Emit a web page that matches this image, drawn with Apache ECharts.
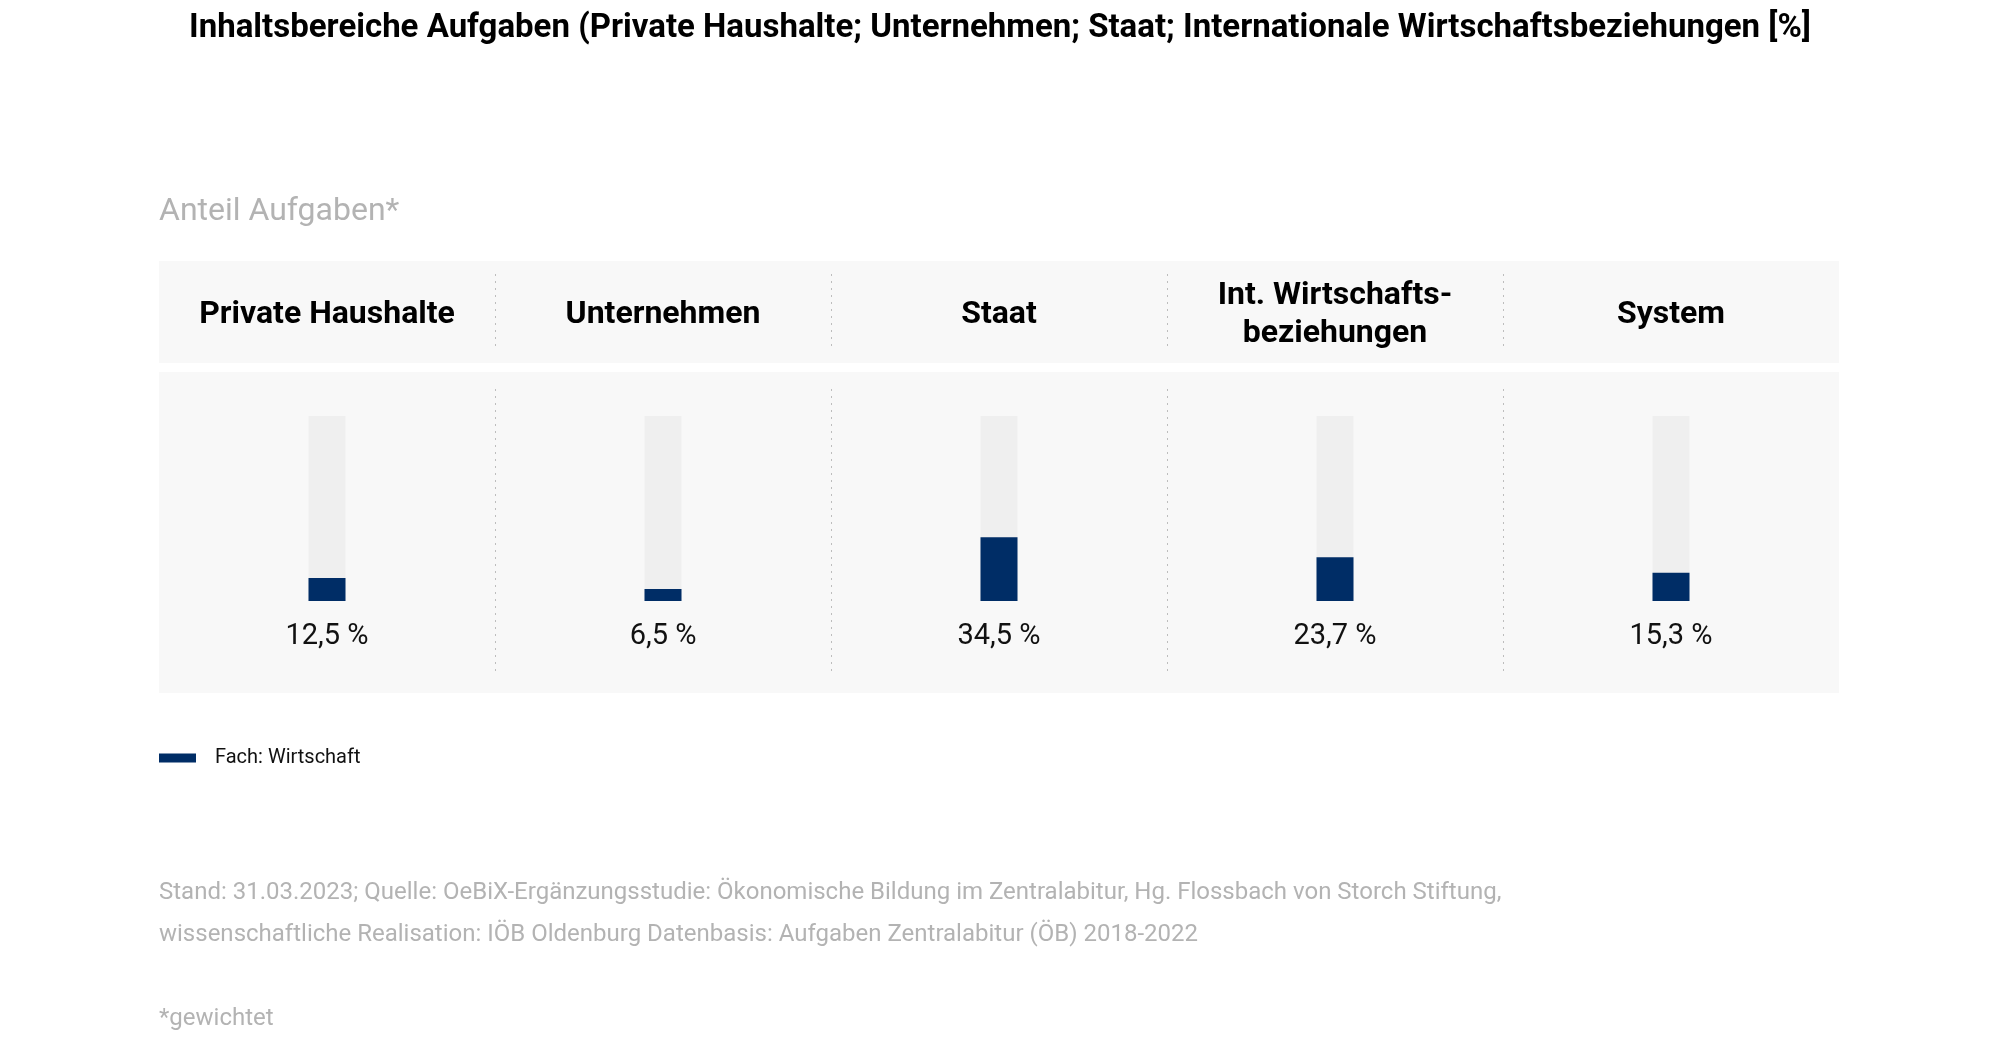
<!DOCTYPE html>
<html>
<head>
<meta charset="utf-8">
<title>Inhaltsbereiche Aufgaben</title>
<script src="https://cdn.jsdelivr.net/npm/echarts@6/dist/echarts.min.js"></script>
<style>
  html, body { margin: 0; padding: 0; background: #fff; }
  #chart { width: 2000px; height: 1049px; }
</style>
</head>
<body>
<div id="chart"></div>
<script>
var categories = ['Private Haushalte', 'Unternehmen', 'Staat', 'Int. Wirtschafts-\nbeziehungen', 'System'];
var wirtschaft = [12.5, 6.5, 34.5, 23.7, 15.3];
var seriesName = 'Fach: Wirtschaft';

// layout
var L = 159, W = 1680, colW = W / categories.length;
var font = 'Roboto, "Noto Sans", sans-serif';
var grey = '#b3b3b3';

var chart = echarts.init(document.getElementById('chart'));

var graphics = [
    { type: 'rect', shape: { x: L, y: 261, width: W, height: 102 }, style: { fill: '#f8f8f8' }, z: 0 },
    { type: 'rect', shape: { x: L, y: 372, width: W, height: 321 }, style: { fill: '#f8f8f8' }, z: 0 }
];
for (var i = 1; i < categories.length; i++) {
    var x = Math.round(L + i * colW) + 0.5;
    [[274, 351], [389, 672]].forEach(function (r) {
        graphics.push({
            type: 'line', z: 1,
            shape: { x1: x, y1: r[0], x2: x, y2: r[1] },
            style: { stroke: '#bdbdbd', lineWidth: 1, lineDash: [2, 5] }
        });
    });
}

var option = {
    textStyle: { fontFamily: font },
    title: [
        {
            text: 'Inhaltsbereiche Aufgaben (Private Haushalte; Unternehmen; Staat; Internationale Wirtschaftsbeziehungen [%]',
            left: 'center', top: 7,
            textStyle: { fontFamily: font, fontSize: 33, fontWeight: 'bold', color: '#000' }
        },
        {
            text: 'Anteil Aufgaben*',
            left: L - 5, top: 191,
            textStyle: { fontFamily: font, fontSize: 32, fontWeight: 'normal', color: grey }
        },
        {
            text: 'Stand: 31.03.2023; Quelle: OeBiX-Ergänzungsstudie: Ökonomische Bildung im Zentralabitur, Hg. Flossbach von Storch Stiftung,\nwissenschaftliche Realisation: IÖB Oldenburg Datenbasis: Aufgaben Zentralabitur (ÖB) 2018-2022',
            left: L - 5, top: 867,
            textStyle: { fontFamily: font, fontSize: 24, fontWeight: 'normal', color: grey, lineHeight: 42 }
        },
        {
            text: '*gewichtet',
            left: L - 5, top: 1002,
            textStyle: { fontFamily: font, fontSize: 24, fontWeight: 'normal', color: grey }
        }
    ],
    legend: {
        data: [seriesName],
        left: L, top: 748, padding: 0,
        icon: 'rect', itemWidth: 37, itemHeight: 9,
        textStyle: { fontFamily: font, fontSize: 20, color: '#111', padding: [0, 0, 0, 14] }
    },
    grid: { left: L, width: W, top: 416, height: 185 },
    xAxis: {
        type: 'category',
        position: 'top',
        data: categories,
        axisLine: { show: false },
        axisTick: { show: false },
        splitLine: { show: false },
        axisLabel: {
            interval: 0, margin: 101, verticalAlign: 'middle',
            fontFamily: font, fontSize: 32, fontWeight: 'bold', color: '#000', lineHeight: 38
        }
    },
    yAxis: { type: 'value', min: 0, max: 100, show: false },
    graphic: graphics,
    series: [
        {
            name: seriesName,
            type: 'bar',
            data: wirtschaft,
            barWidth: 37,
            itemStyle: { color: '#002d66' },
            showBackground: true,
            backgroundStyle: { color: '#efefef' },
            label: {
                show: true, position: 'bottom', distance: 21,
                fontFamily: font, fontSize: 29, color: '#111',
                formatter: function (p) { return p.value.toFixed(1).replace('.', ',') + ' %'; }
            }
        }
    ]
};
chart.setOption(option);
</script>
</body>
</html>
